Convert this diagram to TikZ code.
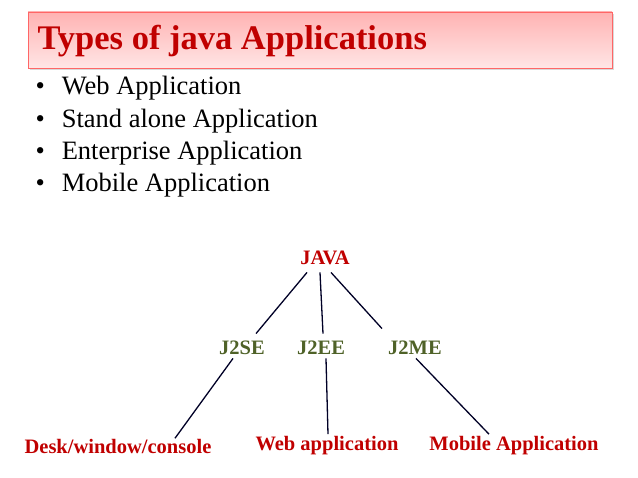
\documentclass[tikz,border=0pt]{standalone}
\usepackage{fontspec}
\setmainfont{Liberation Serif}
\usetikzlibrary{shadows}
\definecolor{tred}{RGB}{192,0,0}
\definecolor{tgreen}{RGB}{79,98,40}
\begin{document}
\begin{tikzpicture}[x=1pt,y=-1pt,
  bul/.style={anchor=west,font=\fontsize{26.5}{28}\selectfont},
  lab/.style={font=\bfseries\fontsize{20.5}{22}\selectfont},
  ln/.style={line width=1.3pt,draw=black!85!blue}]
\useasboundingbox (0,0) rectangle (638,478);
\path[draw=red!60,top color=red!30,bottom color=red!10,drop shadow={opacity=0.3}] (28,12) rectangle (612,68);
\node[anchor=west,text=tred,font=\bfseries\fontsize{34.5}{36}\selectfont] (title) at (34,41) {Types of java Applications};
\node[bul] (b1) at (32,88) {•\hspace{17pt}Web Application};
\node[bul] (b2) at (32,121) {•\hspace{17pt}Stand alone Application};
\node[bul] (b3) at (32,153) {•\hspace{17pt}Enterprise Application};
\node[bul] (b4) at (32,185) {•\hspace{17pt}Mobile Application};
\node[lab,text=tred] (java) at (325,258) {JAVA};
\node[lab,text=tgreen] (j2se) at (242,348) {J2SE};
\node[lab,text=tgreen] (j2ee) at (321,348) {J2EE};
\node[lab,text=tgreen] (j2me) at (415,348) {J2ME};
\node[lab,text=tred] (desk) at (118,446) {Desk/window/console};
\node[lab,text=tred] (web) at (327,446) {Web application};
\node[lab,text=tred] (mob) at (514,446) {Mobile Application};
\draw[ln] ([xshift=-18pt,yshift=-4pt]java.south) -- ([xshift=14pt,yshift=4pt]j2se.north);
\draw[ln] ([xshift=-5pt,yshift=-4pt]java.south) -- ([xshift=2pt,yshift=4pt]j2ee.north);
\draw[ln] ([xshift=6pt,yshift=-4pt]java.south) -- ([xshift=-33pt,yshift=9pt]j2me.north);
\draw[ln] ([xshift=-9pt,yshift=0pt]j2se.south) -- ([xshift=57pt,yshift=-3pt]desk.north);
\draw[ln] ([xshift=5pt,yshift=0pt]j2ee.south) -- ([xshift=1pt,yshift=-1pt]web.north);
\draw[ln] ([xshift=1pt,yshift=0pt]j2me.south) -- ([xshift=-25pt,yshift=-1pt]mob.north);
\end{tikzpicture}
\end{document}
